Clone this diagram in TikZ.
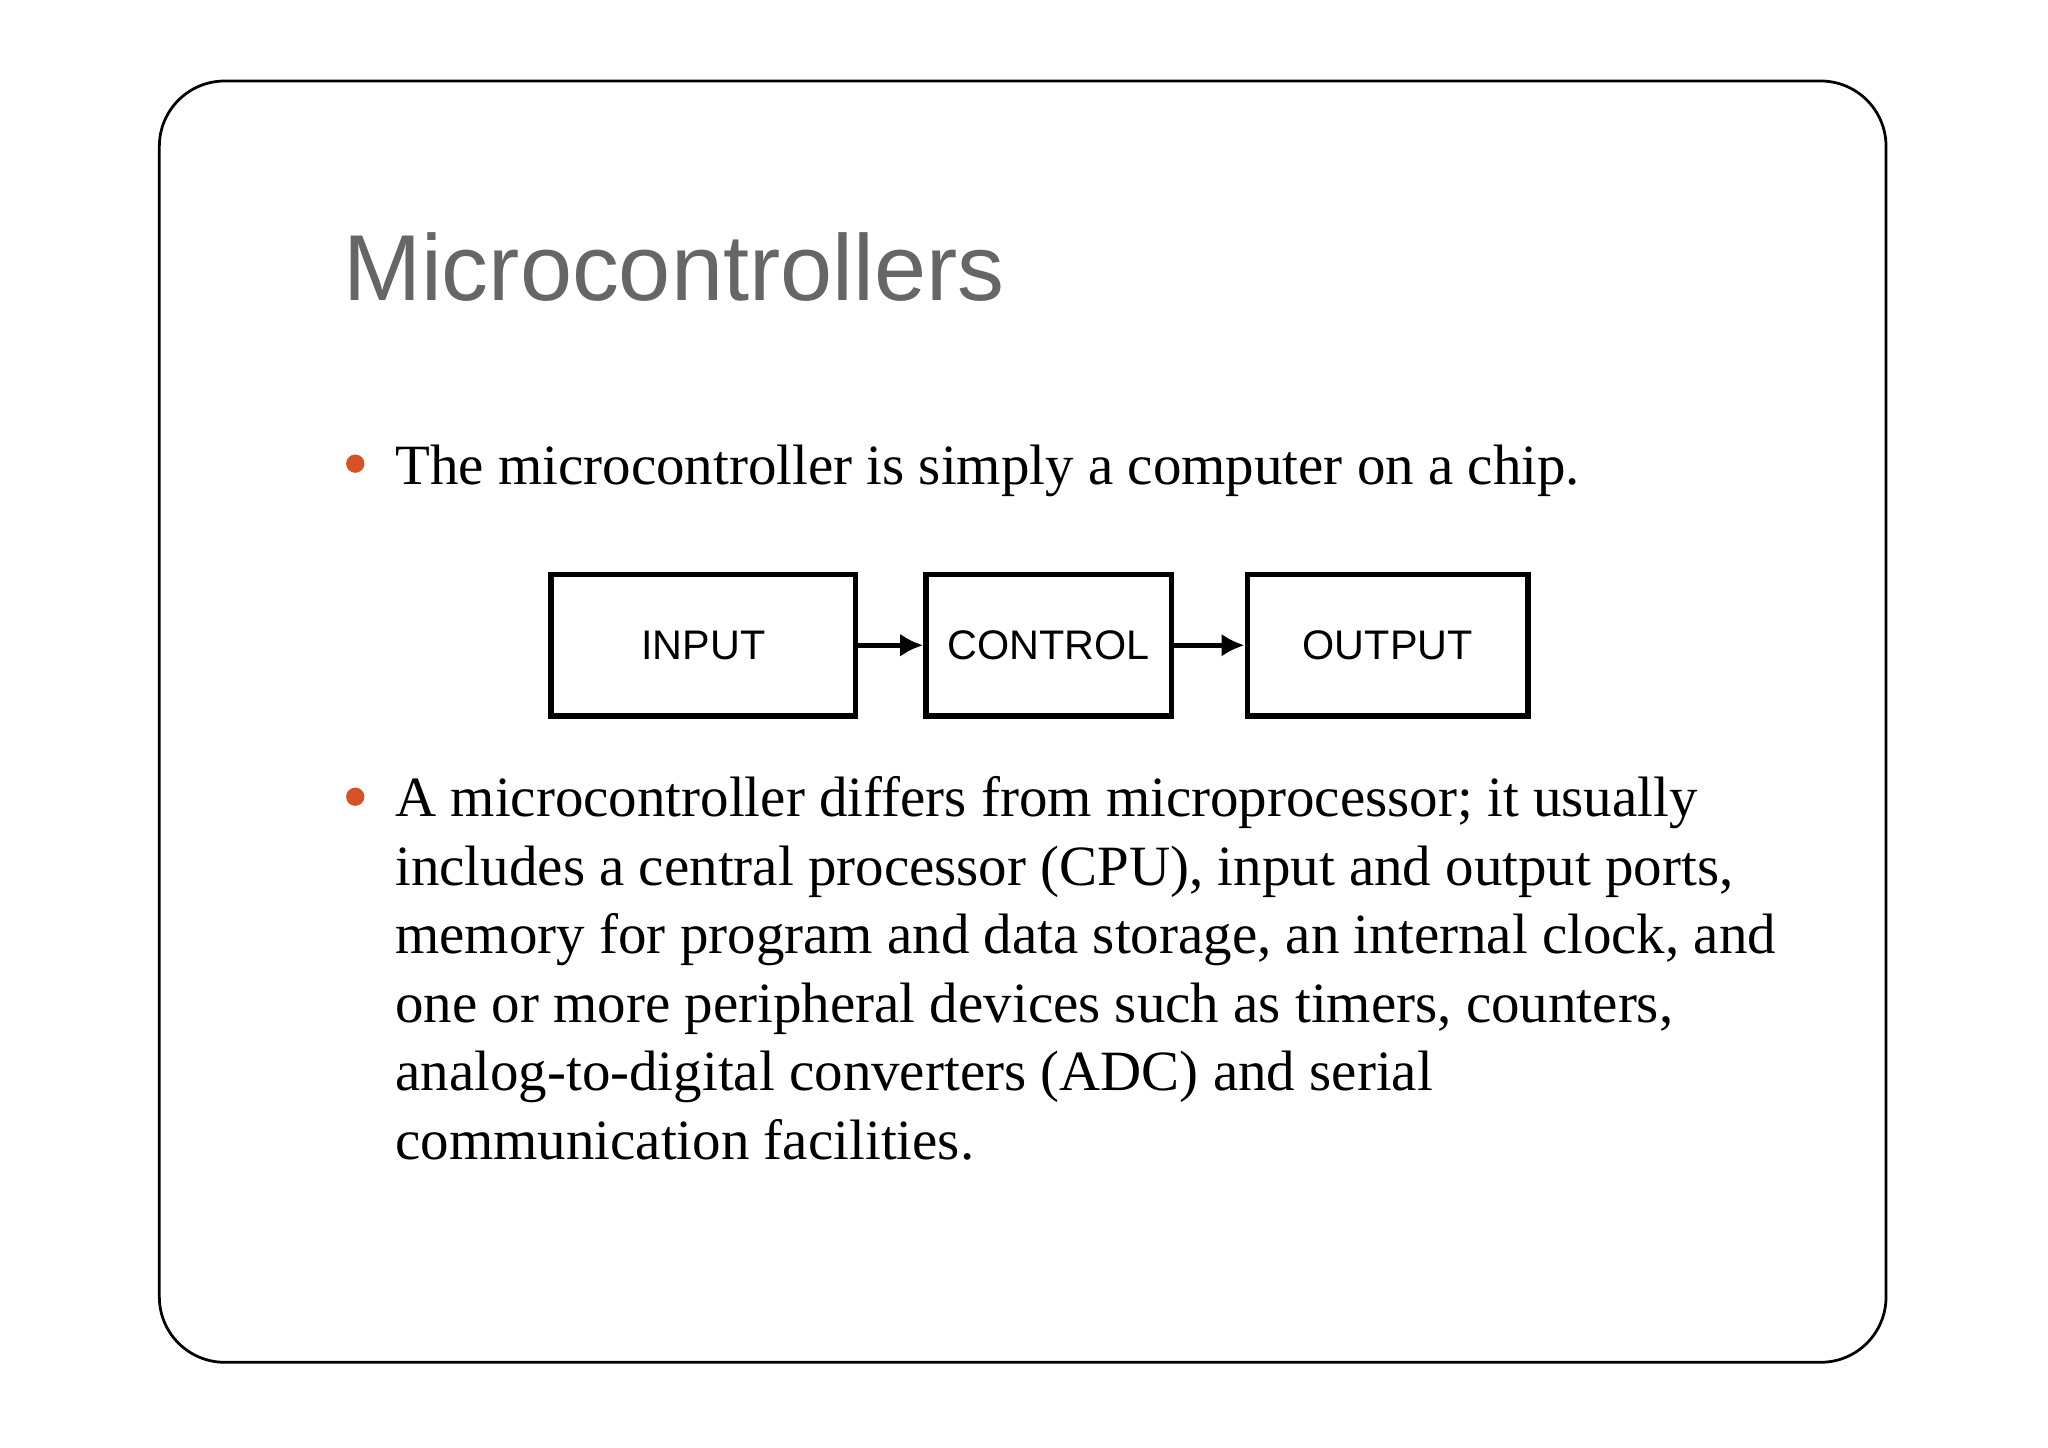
\documentclass[tikz,border=0pt]{standalone}
\usepackage{fontspec}
\setmainfont{Liberation Serif}
\newfontfamily\titlefont{Liberation Sans}
\usetikzlibrary{positioning,arrows.meta}
\definecolor{titlegray}{RGB}{102,102,102}
\definecolor{bulletorange}{RGB}{214,82,38}
\begin{document}
\begin{tikzpicture}[x=0.01cm,y=-0.01cm,
  blockbox/.style={draw,line width=1.2pt,minimum height=1.08cm,
    font=\titlefont\fontsize{9}{10}\selectfont},
  flow/.style={-{Latex[length=5pt,width=5pt]},line width=1.1pt},
  bullet/.style={circle,fill=bulletorange,inner sep=0pt,minimum size=0.14cm},
  bodytext/.style={anchor=north west,align=left,inner sep=0pt,
    font=\fontsize{12.4}{14.9}\selectfont}]
  \useasboundingbox (0,0) rectangle (1568,1108);
  % slide frame
  \draw[line width=0.6pt,rounded corners=0.5cm] (122,62) rectangle (1444,1043);
  % title
  \node[anchor=base west,inner sep=0pt,text=titlegray,
    font=\titlefont\fontsize{20.4}{24}\selectfont] (title) at (262,230) {Microcontrollers};
  % first bullet
  \node[bullet] (b1) at (272,355) {};
  \node[bodytext] (t1) at (302,340) {The microcontroller is simply a computer on a chip.};
  % block diagram
  \node[blockbox,minimum width=2.33cm] (input) at (538.5,494) {INPUT};
  \node[blockbox,minimum width=1.88cm] (control) at (803,494) {CONTROL};
  \node[blockbox,minimum width=2.15cm] (output) at (1062.5,494) {OUTPUT};
  \draw[flow] (input) -- (control);
  \draw[flow] (control) -- (output);
  % second bullet
  \node[bullet] (b2) at (272,610) {};
  \node[bodytext] (t2) at (302,594) {A microcontroller differs from microprocessor; it usually\\
    includes a central processor (CPU), input and output ports,\\
    memory for program and data storage, an internal clock, and\\
    one or more peripheral devices such as timers, counters,\\
    analog-to-digital converters (ADC) and serial\\
    communication facilities.};
\end{tikzpicture}
\end{document}
